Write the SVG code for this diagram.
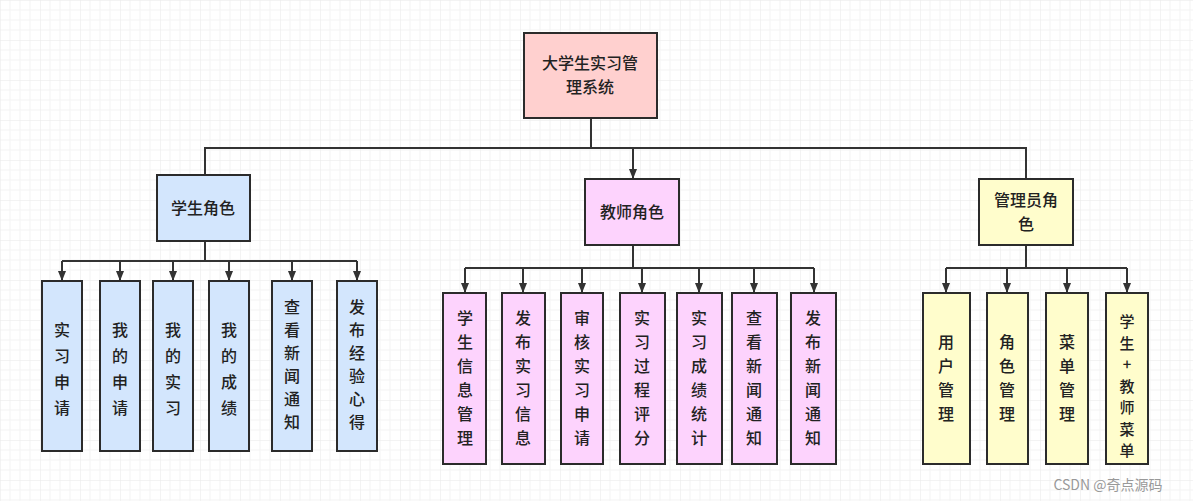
<svg xmlns="http://www.w3.org/2000/svg" width="1193" height="501" viewBox="0 0 1193 501">
<defs>
<pattern id="g" width="40" height="40" patternUnits="userSpaceOnUse">
<path d="M10 0V40M20 0V40M30 0V40M0 10H40M0 20H40M0 30H40" stroke="#f3f3f3" stroke-width="1" fill="none"/>
<path d="M0 0V40M0 0H40" stroke="#e8e8e8" stroke-width="1" fill="none"/>
</pattern>
<marker id="a" markerWidth="10" markerHeight="10" refX="9" refY="5" orient="auto" markerUnits="userSpaceOnUse"><path d="M0 1L10 5L0 9Z" fill="#333"/></marker>
</defs>
<style>
rect.n{stroke:#2b2b2b;stroke-width:2}
.r{fill:#ffd0cf}.s{fill:#d3e6fd}.t{fill:#fdd3fd}.m{fill:#fffdcc}
text{font-family:"Noto Sans CJK SC",sans-serif;font-size:16px;fill:#222;text-anchor:middle;font-weight:500}
.c path{stroke:#333;stroke-width:2;fill:none}
.c path.ar{marker-end:url(#a)}
</style>
<rect width="1193" height="501" fill="#fff"/>
<rect width="1193" height="501" fill="url(#g)"/>
<g class="c">
<path d="M591 118V148M205 175V148H1026V179"/>
<path class="ar" d="M633 148V178"/>
<path d="M205 241V261H357M62 261H205"/>
<path class="ar" d="M62 261V280"/><path class="ar" d="M120 261V280"/><path class="ar" d="M173 261V280"/><path class="ar" d="M229 261V280"/><path class="ar" d="M292 261V280"/><path class="ar" d="M357 261V280"/>
<path d="M633 245V268M465 268H814"/>
<path class="ar" d="M465 268V292"/><path class="ar" d="M523 268V292"/><path class="ar" d="M582 268V292"/><path class="ar" d="M642 268V292"/><path class="ar" d="M699 268V292"/><path class="ar" d="M754 268V292"/><path class="ar" d="M814 268V292"/>
<path d="M1026 245V268M946 268H1127"/>
<path class="ar" d="M946 268V292"/><path class="ar" d="M1007 268V292"/><path class="ar" d="M1067 268V292"/><path class="ar" d="M1127 268V292"/>
</g>
<g id="root"><rect class="n r" x="524" y="33" width="133" height="85"/><text x="590" y="69">大学生实习管</text><text x="590" y="93">理系统</text></g>
<g id="student"><rect class="n s" x="157" y="175" width="93" height="66"/><text x="203" y="214">学生角色</text></g>
<g id="teacher"><rect class="n t" x="585" y="179" width="94" height="66"/><text x="632" y="218">教师角色</text></g>
<g id="admin"><rect class="n m" x="979" y="179" width="94" height="66"/><text x="1026" y="206">管理员角</text><text x="1026" y="230">色</text></g>
<g id="s1"><rect class="n s" x="42" y="281" width="40" height="170"/><text><tspan x="62" y="336">实</tspan><tspan x="62" dy="26">习</tspan><tspan x="62" dy="26">申</tspan><tspan x="62" dy="26">请</tspan></text></g>
<g id="s2"><rect class="n s" x="100" y="281" width="40" height="170"/><text><tspan x="120" y="336">我</tspan><tspan x="120" dy="26">的</tspan><tspan x="120" dy="26">申</tspan><tspan x="120" dy="26">请</tspan></text></g>
<g id="s3"><rect class="n s" x="153" y="281" width="40" height="170"/><text><tspan x="173" y="336">我</tspan><tspan x="173" dy="26">的</tspan><tspan x="173" dy="26">实</tspan><tspan x="173" dy="26">习</tspan></text></g>
<g id="s4"><rect class="n s" x="209" y="281" width="40" height="170"/><text><tspan x="229" y="336">我</tspan><tspan x="229" dy="26">的</tspan><tspan x="229" dy="26">成</tspan><tspan x="229" dy="26">绩</tspan></text></g>
<g id="s5"><rect class="n s" x="272" y="281" width="40" height="170"/><text><tspan x="292" y="313">查</tspan><tspan x="292" dy="23">看</tspan><tspan x="292" dy="23">新</tspan><tspan x="292" dy="23">闻</tspan><tspan x="292" dy="23">通</tspan><tspan x="292" dy="23">知</tspan></text></g>
<g id="s6"><rect class="n s" x="337" y="281" width="40" height="170"/><text><tspan x="357" y="313">发</tspan><tspan x="357" dy="23">布</tspan><tspan x="357" dy="23">经</tspan><tspan x="357" dy="23">验</tspan><tspan x="357" dy="23">心</tspan><tspan x="357" dy="23">得</tspan></text></g>
<g id="t1"><rect class="n t" x="443" y="293" width="43" height="171"/><text><tspan x="465" y="324">学</tspan><tspan x="465" dy="24">生</tspan><tspan x="465" dy="24">信</tspan><tspan x="465" dy="24">息</tspan><tspan x="465" dy="24">管</tspan><tspan x="465" dy="24">理</tspan></text></g>
<g id="t2"><rect class="n t" x="502" y="293" width="43" height="171"/><text><tspan x="523" y="324">发</tspan><tspan x="523" dy="24">布</tspan><tspan x="523" dy="24">实</tspan><tspan x="523" dy="24">习</tspan><tspan x="523" dy="24">信</tspan><tspan x="523" dy="24">息</tspan></text></g>
<g id="t3"><rect class="n t" x="561" y="293" width="42" height="171"/><text><tspan x="582" y="324">审</tspan><tspan x="582" dy="24">核</tspan><tspan x="582" dy="24">实</tspan><tspan x="582" dy="24">习</tspan><tspan x="582" dy="24">申</tspan><tspan x="582" dy="24">请</tspan></text></g>
<g id="t4"><rect class="n t" x="620" y="293" width="45" height="171"/><text><tspan x="642" y="324">实</tspan><tspan x="642" dy="24">习</tspan><tspan x="642" dy="24">过</tspan><tspan x="642" dy="24">程</tspan><tspan x="642" dy="24">评</tspan><tspan x="642" dy="24">分</tspan></text></g>
<g id="t5"><rect class="n t" x="677" y="293" width="45" height="171"/><text><tspan x="699" y="324">实</tspan><tspan x="699" dy="24">习</tspan><tspan x="699" dy="24">成</tspan><tspan x="699" dy="24">绩</tspan><tspan x="699" dy="24">统</tspan><tspan x="699" dy="24">计</tspan></text></g>
<g id="t6"><rect class="n t" x="732" y="293" width="45" height="171"/><text><tspan x="754" y="324">查</tspan><tspan x="754" dy="24">看</tspan><tspan x="754" dy="24">新</tspan><tspan x="754" dy="24">闻</tspan><tspan x="754" dy="24">通</tspan><tspan x="754" dy="24">知</tspan></text></g>
<g id="t7"><rect class="n t" x="791" y="293" width="45" height="171"/><text><tspan x="813" y="324">发</tspan><tspan x="813" dy="24">布</tspan><tspan x="813" dy="24">新</tspan><tspan x="813" dy="24">闻</tspan><tspan x="813" dy="24">通</tspan><tspan x="813" dy="24">知</tspan></text></g>
<g id="a1"><rect class="n m" x="923" y="293" width="47" height="171"/><text><tspan x="946" y="348">用</tspan><tspan x="946" dy="24">户</tspan><tspan x="946" dy="24">管</tspan><tspan x="946" dy="24">理</tspan></text></g>
<g id="a2"><rect class="n m" x="987" y="293" width="41" height="171"/><text><tspan x="1007" y="348">角</tspan><tspan x="1007" dy="24">色</tspan><tspan x="1007" dy="24">管</tspan><tspan x="1007" dy="24">理</tspan></text></g>
<g id="a3"><rect class="n m" x="1046" y="293" width="42" height="171"/><text><tspan x="1067" y="348">菜</tspan><tspan x="1067" dy="24">单</tspan><tspan x="1067" dy="24">管</tspan><tspan x="1067" dy="24">理</tspan></text></g>
<g id="a4"><rect class="n m" x="1106" y="293" width="42" height="171"/><text style="font-size:15px"><tspan x="1127" y="327">学</tspan><tspan x="1127" dy="21.5">生</tspan><tspan x="1127" dy="21.5">+</tspan><tspan x="1127" dy="21.5">教</tspan><tspan x="1127" dy="21.5">师</tspan><tspan x="1127" dy="21.5">菜</tspan><tspan x="1127" dy="21.5">单</tspan></text></g>
<text x="1108" y="490" style="font-size:14px;fill:#999;font-weight:400">CSDN @奇点源码</text>
</svg>
